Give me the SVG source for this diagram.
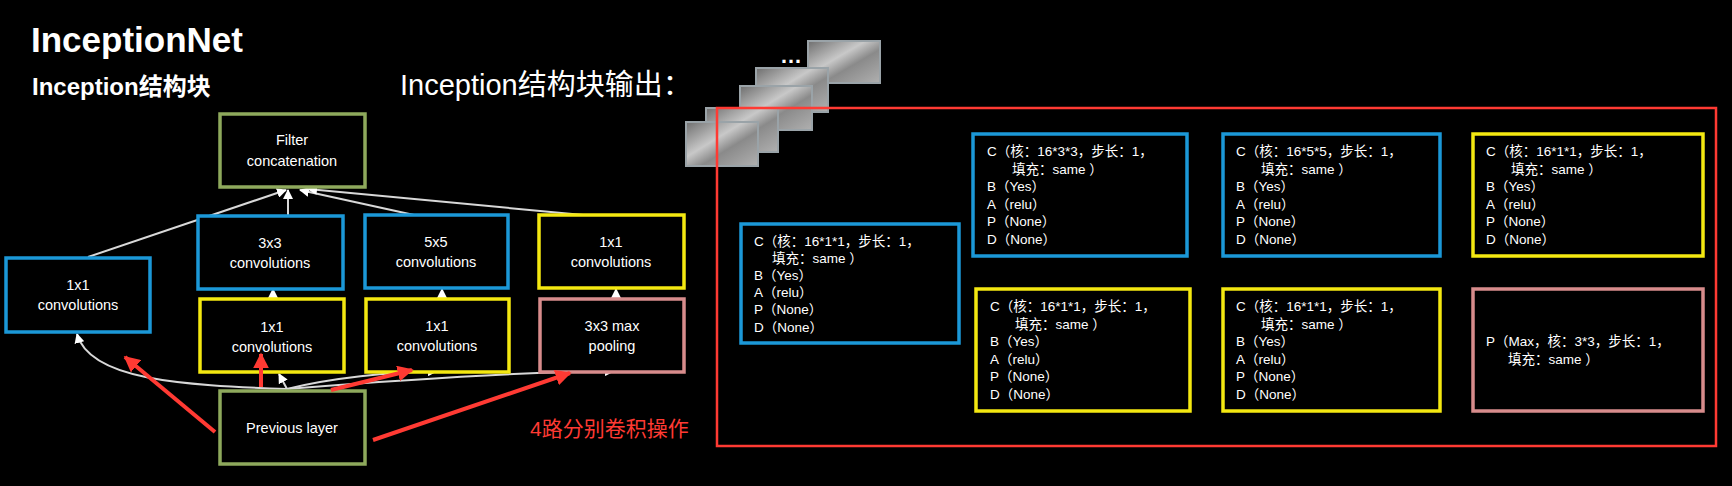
<svg xmlns="http://www.w3.org/2000/svg" width="1732" height="486" viewBox="0 0 1732 486">
<defs>
<style>
.t{font-family:"Liberation Sans","Noto Sans CJK SC",sans-serif;fill:#fff}
.n{font-size:14.5px;text-anchor:middle}
.c{font-size:13.5px}
.box{fill:#000;stroke-width:3.5}
.bl{stroke:#1b98d8}.ye{stroke:#f4e811}.gr{stroke:#8ea95c}.pk{stroke:#d88c8c}
.ln{fill:none;stroke:#d8d8d8;stroke-width:2}
.ra{fill:none;stroke:#ff3a33;stroke-width:4}
.img{fill:url(#g);stroke:#9aa3a8;stroke-width:2}
</style>
<marker id="w" viewBox="0 0 10 10" refX="9" refY="5" markerWidth="5" markerHeight="5" orient="auto"><path d="M0,0L10,5L0,10z" fill="#fff"/></marker>
<marker id="r" viewBox="0 0 10 10" refX="9" refY="5" markerWidth="4" markerHeight="4" orient="auto"><path d="M0,0L10,5L0,10z" fill="#ff3a33"/></marker>
<linearGradient id="g" x1="0" y1="0" x2="1" y2="1"><stop offset="0" stop-color="#6e6e6e"/><stop offset="0.4" stop-color="#c8c8c8"/><stop offset="0.6" stop-color="#8a8a8a"/><stop offset="1" stop-color="#b0b0b0"/></linearGradient>
</defs>
<rect width="1732" height="486" fill="#000"/>
<text class="t" x="31" y="52" font-size="35" font-weight="bold">InceptionNet</text>
<text class="t" x="32" y="95" font-size="24" font-weight="bold">Inception结构块</text>
<text class="t" x="400" y="95" font-size="29">Inception结构块输出：</text>
<g id="stack">
<rect class="img" x="808" y="41" width="72" height="42"/>
<rect class="img" x="756" y="68" width="72" height="44"/>
<rect class="img" x="740" y="86" width="72" height="44"/>
<rect class="img" x="706" y="108" width="72" height="44"/>
<rect class="img" x="686" y="122" width="72" height="44"/>
<text class="t" x="780" y="63" font-size="22" font-weight="bold">…</text>
</g>
<g id="connectors">
<path class="ln" d="M88,257L286,190" marker-end="url(#w)"/>
<path class="ln" d="M288,216L288,190" marker-end="url(#w)"/>
<path class="ln" d="M414,215L300,190" marker-end="url(#w)"/>
<path class="ln" d="M583,215L308,189" marker-end="url(#w)"/>
<path class="ln" d="M273,299L273,289" marker-end="url(#w)"/>
<path class="ln" d="M442,299L442,289" marker-end="url(#w)"/>
<path class="ln" d="M616,299L616,289" marker-end="url(#w)"/>
<path class="ln" d="M287,389C180,385 90,380 77,334" marker-end="url(#w)"/>
<path class="ln" d="M287,389L279,374" marker-end="url(#w)"/>
<path class="ln" d="M287,389C330,378 390,372 437,371" marker-end="url(#w)"/>
<path class="ln" d="M287,389C400,380 520,372 614,371" marker-end="url(#w)"/>
</g>
<g id="filter"><rect class="box gr" x="220" y="114" width="145" height="73"/><text class="t n" x="292" y="145">Filter</text><text class="t n" x="292" y="166">concatenation</text></g>
<g id="c3"><rect class="box bl" x="198" y="216" width="145" height="73"/><text class="t n" x="270" y="248">3x3</text><text class="t n" x="270" y="268">convolutions</text></g>
<g id="c5"><rect class="box bl" x="365" y="215" width="143" height="73"/><text class="t n" x="436" y="247">5x5</text><text class="t n" x="436" y="267">convolutions</text></g>
<g id="c1top"><rect class="box ye" x="539" y="215" width="145" height="73"/><text class="t n" x="611" y="247">1x1</text><text class="t n" x="611" y="267">convolutions</text></g>
<g id="c1left"><rect class="box bl" x="6" y="258" width="144" height="74"/><text class="t n" x="78" y="290">1x1</text><text class="t n" x="78" y="310">convolutions</text></g>
<g id="c1a"><rect class="box ye" x="200" y="299" width="144" height="73"/><text class="t n" x="272" y="332">1x1</text><text class="t n" x="272" y="352">convolutions</text></g>
<g id="c1b"><rect class="box ye" x="366" y="299" width="143" height="73"/><text class="t n" x="437" y="331">1x1</text><text class="t n" x="437" y="351">convolutions</text></g>
<g id="pool"><rect class="box pk" x="540" y="299" width="144" height="73"/><text class="t n" x="612" y="331">3x3 max</text><text class="t n" x="612" y="351">pooling</text></g>
<g id="prev"><rect class="box gr" x="220" y="391" width="145" height="73"/><text class="t n" x="292" y="433">Previous layer</text></g>
<g id="redarrows">
<path class="ra" d="M215,432L125,357" marker-end="url(#r)"/>
<path class="ra" d="M261,387L261,354" marker-end="url(#r)"/>
<path class="ra" d="M331,390L412,370" marker-end="url(#r)"/>
<path class="ra" d="M373,440L570,373" marker-end="url(#r)"/>
</g>
<text x="530" y="436" font-family="Liberation Sans,Noto Sans CJK SC,sans-serif" font-size="21" fill="#ff3a33">4路分别卷积操作</text>
<rect x="717" y="108" width="999" height="338" fill="none" stroke="#ff3a33" stroke-width="2.5"/>
<g id="cardA"><rect class="box bl" x="741" y="224" width="218" height="119"/>
<text class="t c" x="754" y="246">C（核：16*1*1，步长：1，</text><text class="t c" x="772" y="263">填充：same ）</text><text class="t c" x="754" y="280">B（Yes）</text><text class="t c" x="754" y="297">A（relu）</text><text class="t c" x="754" y="314">P（None）</text><text class="t c" x="754" y="332">D（None）</text></g>
<g id="cardB"><rect class="box bl" x="973" y="134" width="214" height="122"/>
<text class="t c" x="987" y="156">C（核：16*3*3，步长：1，</text><text class="t c" x="1012" y="174">填充：same ）</text><text class="t c" x="987" y="191">B（Yes）</text><text class="t c" x="987" y="209">A（relu）</text><text class="t c" x="987" y="226">P（None）</text><text class="t c" x="987" y="244">D（None）</text></g>
<g id="cardC"><rect class="box bl" x="1223" y="134" width="217" height="122"/>
<text class="t c" x="1236" y="156">C（核：16*5*5，步长：1，</text><text class="t c" x="1261" y="174">填充：same ）</text><text class="t c" x="1236" y="191">B（Yes）</text><text class="t c" x="1236" y="209">A（relu）</text><text class="t c" x="1236" y="226">P（None）</text><text class="t c" x="1236" y="244">D（None）</text></g>
<g id="cardD"><rect class="box ye" x="1473" y="134" width="230" height="122"/>
<text class="t c" x="1486" y="156">C（核：16*1*1，步长：1，</text><text class="t c" x="1511" y="174">填充：same ）</text><text class="t c" x="1486" y="191">B（Yes）</text><text class="t c" x="1486" y="209">A（relu）</text><text class="t c" x="1486" y="226">P（None）</text><text class="t c" x="1486" y="244">D（None）</text></g>
<g id="cardE"><rect class="box ye" x="976" y="289" width="214" height="122"/>
<text class="t c" x="990" y="311">C（核：16*1*1，步长：1，</text><text class="t c" x="1015" y="329">填充：same ）</text><text class="t c" x="990" y="346">B（Yes）</text><text class="t c" x="990" y="364">A（relu）</text><text class="t c" x="990" y="381">P（None）</text><text class="t c" x="990" y="399">D（None）</text></g>
<g id="cardF"><rect class="box ye" x="1223" y="289" width="217" height="122"/>
<text class="t c" x="1236" y="311">C（核：16*1*1，步长：1，</text><text class="t c" x="1261" y="329">填充：same ）</text><text class="t c" x="1236" y="346">B（Yes）</text><text class="t c" x="1236" y="364">A（relu）</text><text class="t c" x="1236" y="381">P（None）</text><text class="t c" x="1236" y="399">D（None）</text></g>
<g id="cardG"><rect class="box pk" x="1473" y="289" width="230" height="122"/>
<text class="t c" x="1486" y="346">P（Max，核：3*3，步长：1，</text><text class="t c" x="1508" y="364">填充：same ）</text></g>
</svg>
